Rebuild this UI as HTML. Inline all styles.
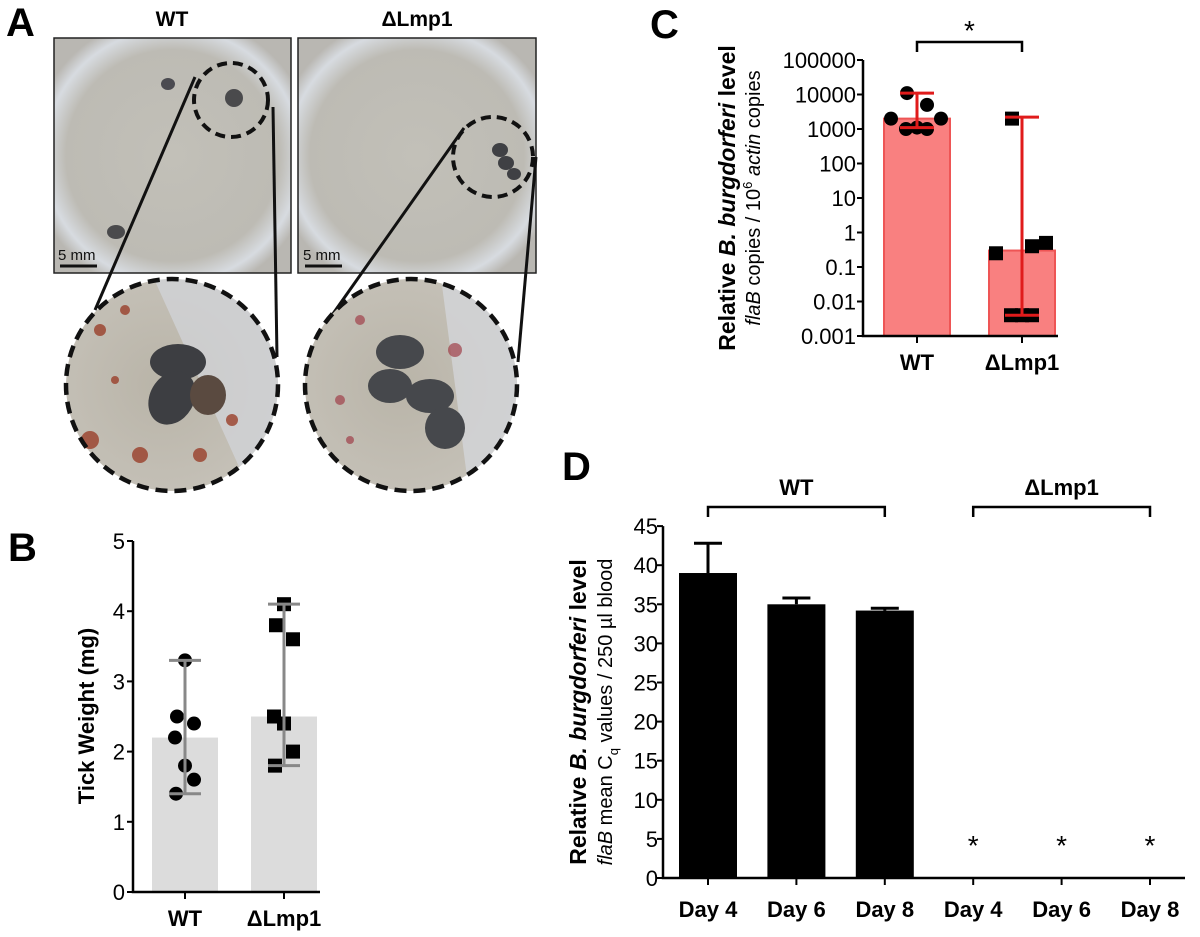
<!DOCTYPE html>
<html><head><meta charset="utf-8">
<style>
html,body{margin:0;padding:0;background:#fff;}
svg{display:block;font-family:"Liberation Sans",Arial,sans-serif;}
</style></head>
<body>
<svg id="fig" width="1200" height="937" viewBox="0 0 1200 937" xmlns="http://www.w3.org/2000/svg">
<defs>
<radialGradient id="dish" cx="50%" cy="50%" r="60%">
<stop offset="0" stop-color="#c2c0b8"/><stop offset="0.75" stop-color="#bdbbb4"/><stop offset="0.9" stop-color="#d7dbe0"/><stop offset="1" stop-color="#b9b7b2"/>
</radialGradient>
<radialGradient id="zoomg" cx="45%" cy="50%" r="60%">
<stop offset="0" stop-color="#b9b4a8"/><stop offset="1" stop-color="#c6c2b9"/>
</radialGradient>
<clipPath id="clipWT"><circle cx="172" cy="385" r="106"/></clipPath>
<clipPath id="clipLmp"><circle cx="411" cy="385" r="106"/></clipPath>
</defs>

<!-- Panel A -->
<g>
<text x="6" y="36" font-size="40" font-weight="bold">A</text>
<text x="172" y="26" font-size="21" font-weight="bold" text-anchor="middle">WT</text>
<text x="417" y="26" font-size="21" font-weight="bold" text-anchor="middle">ΔLmp1</text>
<rect x="54" y="38" width="237" height="235" fill="url(#dish)" stroke="#222" stroke-width="1.5"/>
<rect x="298" y="38" width="238" height="235" fill="url(#dish)" stroke="#222" stroke-width="1.5"/>
<ellipse cx="116" cy="232" rx="9" ry="7" fill="#4a4a4c"/><ellipse cx="168" cy="84" rx="7" ry="6" fill="#4a4a50"/>
<ellipse cx="234" cy="98" rx="9" ry="9" fill="#4a4a4c"/>
<ellipse cx="500" cy="150" rx="8" ry="7" fill="#3f4044"/><ellipse cx="506" cy="163" rx="8" ry="7" fill="#3f4044"/><ellipse cx="514" cy="174" rx="7" ry="6" fill="#3f4044"/>
<g stroke="#111" stroke-width="3"><line x1="60" y1="266" x2="97" y2="266"/><line x1="305" y1="266" x2="342" y2="266"/></g>
<text x="58" y="260" font-size="15" fill="#111">5 mm</text>
<text x="303" y="260" font-size="15" fill="#111">5 mm</text>
<circle cx="231" cy="100" r="37" fill="none" stroke="#111" stroke-width="4" stroke-dasharray="10 6"/>
<circle cx="493" cy="157" r="40" fill="none" stroke="#111" stroke-width="4" stroke-dasharray="10 6"/>
<g stroke="#111" stroke-width="3">
<line x1="195" y1="77" x2="95" y2="310"/><line x1="273" y1="107" x2="277" y2="357"/>
<line x1="464" y1="128" x2="330" y2="318"/><line x1="536" y1="157" x2="518" y2="362"/>
</g>
<circle cx="172" cy="385" r="106" fill="url(#zoomg)"/>
<circle cx="411" cy="385" r="106" fill="url(#zoomg)"/>
<path d="M150 270 L245 480 L290 440 L290 270 Z" fill="#d3d6dc" opacity="0.7" clip-path="url(#clipWT)"/>
<path d="M440 270 L470 500 L530 430 L530 270 Z" fill="#d5d8de" opacity="0.7" clip-path="url(#clipLmp)"/>
<ellipse cx="178" cy="362" rx="28" ry="18" fill="#3d3e42"/><ellipse cx="172" cy="398" rx="22" ry="28" fill="#3d3e42" transform="rotate(30 172 398)"/>
<ellipse cx="208" cy="395" rx="18" ry="20" fill="#5a4a40"/>
<g fill="#9a3f2a" opacity="0.8"><circle cx="100" cy="330" r="6"/><circle cx="90" cy="440" r="9"/><circle cx="140" cy="455" r="8"/><circle cx="115" cy="380" r="4"/><circle cx="232" cy="420" r="6"/><circle cx="200" cy="455" r="7"/><circle cx="125" cy="310" r="5"/></g>
<ellipse cx="400" cy="352" rx="24" ry="17" fill="#46484c"/><ellipse cx="390" cy="386" rx="22" ry="17" fill="#46484c"/><ellipse cx="430" cy="396" rx="24" ry="17" fill="#46484c"/><ellipse cx="445" cy="428" rx="20" ry="21" fill="#46484c"/>
<g fill="#a0404a" opacity="0.7"><circle cx="340" cy="400" r="5"/><circle cx="360" cy="320" r="5"/><circle cx="350" cy="440" r="4"/><circle cx="455" cy="350" r="7"/></g>
<circle cx="172" cy="385" r="106" fill="none" stroke="#111" stroke-width="4.5" stroke-dasharray="12 7"/>
<circle cx="411" cy="385" r="106" fill="none" stroke="#111" stroke-width="4.5" stroke-dasharray="12 7"/>
</g>

<g id="panelB">
<text x="8" y="561" font-size="40" font-weight="bold">B</text>
<text transform="translate(94,716) rotate(-90)" font-size="22" font-weight="bold" text-anchor="middle">Tick Weight (mg)</text>
</g>
<g id="panelC">
<text x="650" y="38" font-size="40" font-weight="bold">C</text>
<text transform="translate(735,198) rotate(-90)" font-size="23" font-weight="bold" text-anchor="middle">Relative <tspan font-style="italic">B. burgdorferi</tspan> level</text>
<text transform="translate(760,198) rotate(-90)" font-size="20" text-anchor="middle"><tspan font-style="italic">flaB</tspan> copies / 10<tspan font-size="13" dy="-8">6</tspan><tspan dy="8"> </tspan><tspan font-style="italic">actin</tspan> copies</text>
</g>
<g id="panelD">
<text x="562" y="480" font-size="40" font-weight="bold">D</text>
<text transform="translate(586,712) rotate(-90)" font-size="23" font-weight="bold" text-anchor="middle">Relative <tspan font-style="italic">B. burgdorferi</tspan> level</text>
<text transform="translate(612,712) rotate(-90)" font-size="20" text-anchor="middle"><tspan font-style="italic">flaB</tspan>  mean C<tspan font-size="13" dy="6">q</tspan><tspan dy="-6"> values / 250 µl blood</tspan></text>
</g>
</svg>
<script>
const NS='http://www.w3.org/2000/svg';
function mk(parent,tag,attrs,txt){const e=document.createElementNS(NS,tag);for(const k in attrs)e.setAttribute(k,attrs[k]);if(txt!==undefined)e.textContent=txt;parent.appendChild(e);return e;}

// ---- Panel B data ----
const bGroups=['WT','ΔLmp1'];
const bMedians=[2.2,2.5];
const bMin=[1.4,1.8];
const bMax=[3.3,4.1];
const bWT=[3.3,2.5,2.4,2.2,1.8,1.6,1.4];
const bLmp=[4.1,3.8,3.6,2.5,2.4,2.0,1.8];
const bTicks=[0,1,2,3,4,5];
// ---- Panel C data ----
const cGroups=['WT','ΔLmp1'];
const cMedians=[2000,0.3];
const cMin=[1100,0.004];
const cMax=[11000,2200];
const cWT=[11000,5000,2000,2000,1000,1000,1100];
const cLmp=[2000,0.4,0.25,0.5,0.004,0.004,0.004];
const cTicks=['0.001','0.01','0.1','1','10','100','1000','10000','100000'];
// ---- Panel D data ----
const dCats=['Day 4','Day 6','Day 8','Day 4','Day 6','Day 8'];
const dValues=[39,35,34.2,0,0,0];
const dErr=[42.8,35.8,34.5,0,0,0];
const dStars=[false,false,false,true,true,true];
const dTicks=[0,5,10,15,20,25,30,35,40,45];

// Panel B
(function(){
const g=document.getElementById('panelB');
const y=v=>892-v*70.2; const xc=i=>185+i*99;
bGroups.forEach((n,i)=>{
 const r=mk(g,'rect',{x:xc(i)-33,y:y(bMedians[i]),width:66,height:y(0)-y(bMedians[i]),fill:'#dcdcdc'});
 
 
});
[bWT,bLmp].forEach((arr,i)=>{
 const offs=[0,-8,9,-10,0,9,-9];
 arr.forEach((v,j)=>{
  const cx=xc(i)+offs[j%offs.length];
  let p;
  if(i===0)p=mk(g,'circle',{cx:cx,cy:y(v),r:7,fill:'#000'});
  else p=mk(g,'rect',{x:cx-7,y:y(v)-7,width:14,height:14,fill:'#000'});
  
  
 });
 const e=mk(g,'path',{d:`M${xc(i)-16} ${y(bMax[i])}H${xc(i)+16}M${xc(i)} ${y(bMax[i])}V${y(bMin[i])}M${xc(i)-16} ${y(bMin[i])}H${xc(i)+16}`,stroke:'#888',"stroke-width":3,fill:'none'});
 
 
});
mk(g,'path',{d:`M133 ${y(5)}V${y(0)}H320`,stroke:'#000','stroke-width':2.5,fill:'none'});
bTicks.forEach(t=>{mk(g,'line',{x1:127,x2:133,y1:y(t),y2:y(t),stroke:'#000','stroke-width':2});
 const l=mk(g,'text',{x:125,y:y(t)+8,'font-size':22,'text-anchor':'end'},t);
 
 });
bGroups.forEach((n,i)=>{mk(g,'line',{x1:xc(i),x2:xc(i),y1:892,y2:899,stroke:'#000','stroke-width':2});
 const l=mk(g,'text',{x:xc(i),y:926,'font-size':22,'font-weight':'bold','text-anchor':'middle'},n);
 
 });
})();

// Panel C
(function(){
const g=document.getElementById('panelC');
const y=v=>336-(Math.log10(v)+3)*34.5; const xc=i=>917+i*105;
cGroups.forEach((n,i)=>{
 const r=mk(g,'rect',{x:xc(i)-33,y:y(cMedians[i]),width:66,height:336-y(cMedians[i]),fill:'#f98080',stroke:'#ee5555','stroke-width':2});
 
 
});
[cWT,cLmp].forEach((arr,i)=>{
 const offs=[-10,10,-26,24,-11,10,0];
 arr.forEach((v,j)=>{
  const cx=xc(i)+offs[j];
  let p;
  if(i===0)p=mk(g,'circle',{cx:cx,cy:y(v),r:7,fill:'#000'});
  else p=mk(g,'rect',{x:cx-7,y:y(v)-7,width:14,height:14,fill:'#000'});
  
  
 });
 const e=mk(g,'path',{d:`M${xc(i)-17} ${y(cMax[i])}H${xc(i)+17}M${xc(i)} ${y(cMax[i])}V${y(cMin[i])}M${xc(i)-17} ${y(cMin[i])}H${xc(i)+17}`,stroke:'#e01b1b','stroke-width':3,fill:'none'});
 
 
});
mk(g,'path',{d:`M863 ${y(100000)}V336H1058`,stroke:'#000','stroke-width':2.5,fill:'none'});
cTicks.forEach(t=>{const v=parseFloat(t);mk(g,'line',{x1:857,x2:863,y1:y(v),y2:y(v),stroke:'#000','stroke-width':2});
 const l=mk(g,'text',{x:856,y:y(v)+8,'font-size':22,'text-anchor':'end'},t);
 
 });
cGroups.forEach((n,i)=>{mk(g,'line',{x1:xc(i),x2:xc(i),y1:336,y2:343,stroke:'#000','stroke-width':2});
 const l=mk(g,'text',{x:xc(i),y:370,'font-size':22,'font-weight':'bold','text-anchor':'middle'},n);
 
 });
const br=mk(g,'path',{d:`M${xc(0)} 52V42H${xc(1)}V52`,stroke:'#000','stroke-width':2.5,fill:'none'});


const st=mk(g,'text',{x:(xc(0)+xc(1))/2,y:40,'font-size':28,'text-anchor':'middle'},'*');


})();

// Panel D
(function(){
const g=document.getElementById('panelD');
const y=v=>878-v*7.82; const xc=i=>708+i*88.4;
dCats.forEach((c,i)=>{
 if(dValues[i]>0){
  const r=mk(g,'rect',{x:xc(i)-29,y:y(dValues[i]),width:58,height:878-y(dValues[i]),fill:'#000'});
  
  
  const e=mk(g,'path',{d:`M${xc(i)} ${y(dValues[i])}V${y(dErr[i])}M${xc(i)-14} ${y(dErr[i])}H${xc(i)+14}`,stroke:'#000','stroke-width':3,fill:'none'});
  
  
 }
 if(dStars[i]){const s=mk(g,'text',{x:xc(i),y:y(5)+16,'font-size':28,'text-anchor':'middle'},'*');
  
  }
 mk(g,'line',{x1:xc(i),x2:xc(i),y1:878,y2:885,stroke:'#000','stroke-width':2});
 const l=mk(g,'text',{x:xc(i),y:917,'font-size':22,'font-weight':'bold','text-anchor':'middle'},c);
 
 
});
mk(g,'path',{d:`M663 ${y(45)}V878H1185`,stroke:'#000','stroke-width':2.5,fill:'none'});
dTicks.forEach(t=>{mk(g,'line',{x1:657,x2:663,y1:y(t),y2:y(t),stroke:'#000','stroke-width':2});
 const l=mk(g,'text',{x:658,y:y(t)+8,'font-size':22,'text-anchor':'end'},t);
 
 });
[['WT',0,2],['ΔLmp1',3,5]].forEach(b=>{
 const p=mk(g,'path',{d:`M${xc(b[1])} 517V507H${xc(b[2])}V517`,stroke:'#000','stroke-width':2.5,fill:'none'});
 
 
 const t=mk(g,'text',{x:(xc(b[1])+xc(b[2]))/2,y:495,'font-size':22,'font-weight':'bold','text-anchor':'middle'},b[0]);
 
 
});
})();
</script>
</body></html>
